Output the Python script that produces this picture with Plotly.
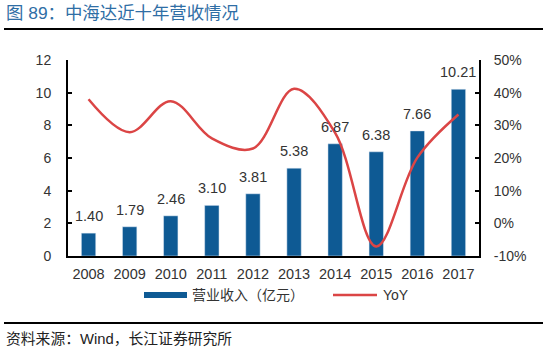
import plotly.graph_objects as go

years = ["2008", "2009", "2010", "2011", "2012", "2013", "2014", "2015", "2016", "2017"]
revenue = [1.40, 1.79, 2.46, 3.10, 3.81, 5.38, 6.87, 6.38, 7.66, 10.21]
yoy = [38.0, 27.9, 37.4, 26.0, 22.9, 41.2, 27.7, -7.1, 20.1, 33.3]
rev_labels = [f"{v:.2f}" for v in revenue]
left_ticks = [0, 2, 4, 6, 8, 10, 12]
right_ticks = [-10, 0, 10, 20, 30, 40, 50]

W, H = 550, 353
L, R, T, B = 68, 71, 60, 97
PW, PH = W - L - R, H - T - B

def px(x):
    return (x - L) / PW

def py(y):
    return (H - B - y) / PH

FONT = "Liberation Sans, Arial, Noto Sans CJK SC, sans-serif"
BLUE = "#0E5A94"
RED = "#DB4545"
TXT = "#333333"

fig = go.Figure()
fig.add_trace(go.Bar(
    x=years, y=revenue, name="营业收入（亿元）", marker_color=BLUE, width=0.35,
    showlegend=False,
))
fig.add_trace(go.Scatter(
    x=years, y=yoy, name="YoY", mode="lines", yaxis="y2",
    line=dict(color=RED, width=2.5, shape="spline", smoothing=1.0), showlegend=False,
))

# data labels: category axis positions by index
for i, (v, lab) in enumerate(zip(revenue, rev_labels)):
    fig.add_annotation(x=i, y=v, xref="x", yref="y", text=lab, showarrow=False,
                       yanchor="middle", yshift=17,
                       font=dict(size=14.5, color=TXT, family=FONT))

axis_common = dict(showgrid=False, zeroline=False, showline=True, linecolor="#000000",
                   linewidth=2, ticks="inside", ticklen=4, tickcolor="#000000", tickwidth=1.5)
fig.update_layout(
    width=W, height=H, margin=dict(l=L, r=R, t=T, b=B),
    paper_bgcolor="white", plot_bgcolor="white",
    font=dict(family=FONT),
    xaxis=dict(type="category", range=[-0.5, len(years) - 0.5], showgrid=False, showline=True,
               linecolor="#000000", linewidth=2, ticks="", ticklabelstandoff=4,
               tickfont=dict(size=14.5, color=TXT, family=FONT)),
    yaxis=dict(range=[0, 12], tickvals=left_ticks, ticklabelstandoff=12,
               tickfont=dict(size=14, color=TXT, family=FONT), **axis_common),
    yaxis2=dict(range=[-10, 50], tickvals=right_ticks, ticktext=[f"{v}%" for v in right_ticks],
                overlaying="y", side="right", ticklabelstandoff=10,
                tickfont=dict(size=14, color=TXT, family=FONT), **axis_common),
    showlegend=False,
)

shapes = [
    dict(type="line", xref="paper", yref="paper", x0=px(4), x1=px(543), y0=py(29), y1=py(29),
         line=dict(color="#000000", width=2)),
    dict(type="line", xref="paper", yref="paper", x0=px(4), x1=px(543), y0=py(323), y1=py(323),
         line=dict(color="#000000", width=2)),
    dict(type="rect", xref="paper", yref="paper", x0=px(144), x1=px(187), y0=py(298), y1=py(292),
         fillcolor=BLUE, line=dict(width=0)),
    dict(type="line", xref="paper", yref="paper", x0=px(333), x1=px(377), y0=py(295), y1=py(295),
         line=dict(color=RED, width=2.5)),
]
for s in shapes:
    fig.add_shape(**s)

annots = [
    dict(text="图 89：中海达近十年营收情况", x=px(4), y=py(13), size=17.4, color="#2F6EA5"),
    dict(text="营业收入（亿元）", x=px(190), y=py(295), size=14, color=TXT),
    dict(text="YoY", x=px(381), y=py(295), size=14, color=TXT),
    dict(text="资料来源：Wind，长江证券研究所", x=px(4), y=py(339), size=14.8, color="#222222"),
]
for a in annots:
    fig.add_annotation(text=a["text"], x=a["x"], y=a["y"], xref="paper", yref="paper",
                       xanchor="left", yanchor="middle", showarrow=False,
                       font=dict(size=a["size"], color=a["color"], family=FONT))

fig.write_html("out.html")
